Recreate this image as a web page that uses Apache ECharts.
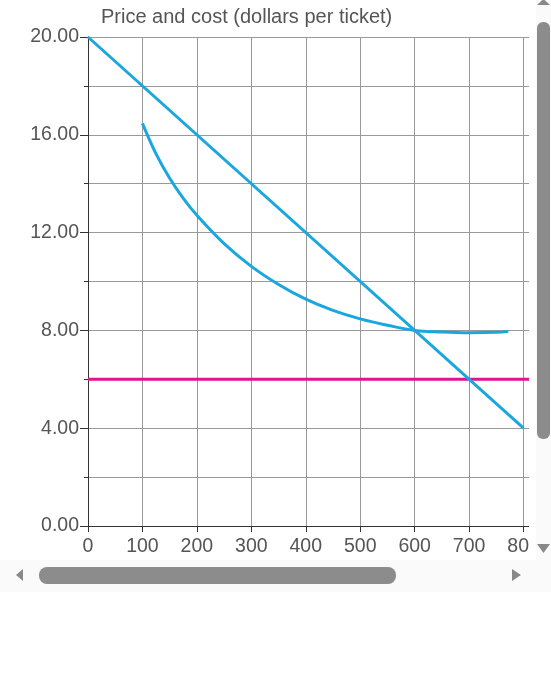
<!DOCTYPE html>
<html>
<head>
<meta charset="utf-8">
<script src="https://cdn.jsdelivr.net/npm/echarts@6/dist/echarts.min.js"></script>
<style>
html,body{margin:0;padding:0;background:#fff;}
#chart{width:551px;height:700px;}
</style>
</head>
<body>
<div id="chart"></div>
<script>
// Data
const titleText = 'Price and cost (dollars per ticket)';
const demandQ = [0, 800];
const demandP = [20, 4];
const acQ = [100, 125, 150, 175, 200, 250, 300, 350, 400, 450, 500, 550, 600, 650, 700, 750, 772];
const acP = [16.47, 15.22, 14.22, 13.4, 12.71, 11.55, 10.62, 9.88, 9.28, 8.82, 8.47, 8.21, 8.0, 7.93, 7.9, 7.92, 7.96];
const mcQ = [0, 810];
const mcP = [6, 6];
const yTicks = [0, 4, 8, 12, 16, 20];
const xTicks = [0, 100, 200, 300, 400, 500, 600, 700, 800];

const zip = (a, b) => a.map((v, i) => [v, b[i]]);

const chart = echarts.init(document.getElementById('chart'), null, {renderer: 'canvas'});
const FONT = 'Liberation Sans, Arial, sans-serif';
const blue = '#1aa6df';
const pink = '#e0148c';
const grey = '#999999';
const thumb = '#8c8c8c';

chart.setOption({
  animation: false,
  backgroundColor: '#ffffff',
  title: {
    text: titleText,
    left: 96, top: 2,
    textStyle: {fontFamily: FONT, fontSize: 20, fontWeight: 'normal', color: '#555'}
  },
  grid: {left: 88, top: 37, width: 441, height: 489, containLabel: false},
  xAxis: {
    type: 'value', min: 0, max: 810, interval: 100,
    axisLine: {show: true, onZero: false, lineStyle: {color: '#333', width: 1}},
    axisTick: {show: true, length: 6, lineStyle: {color: '#333'}},
    axisLabel: {
      margin: 11, color: '#555', fontFamily: FONT, fontSize: 19.5,
      formatter: v => xTicks.indexOf(v) >= 0 ? String(v) : ''
    },
    splitLine: {show: true, lineStyle: {color: grey, width: 1}}
  },
  yAxis: {
    type: 'value', min: 0, max: 20, interval: 4,
    axisLine: {show: true, onZero: false, lineStyle: {color: '#333', width: 1}},
    axisTick: {show: true, length: 8, lineStyle: {color: '#333'}},
    minorTick: {show: true, splitNumber: 2, length: 4, lineStyle: {color: '#333'}},
    axisLabel: {
      margin: 9, color: '#555', fontFamily: FONT, fontSize: 19.5,
      formatter: v => yTicks.indexOf(v) >= 0 ? v.toFixed(2) : ''
    },
    splitLine: {show: true, lineStyle: {color: grey, width: 1}},
    minorSplitLine: {show: true, lineStyle: {color: grey, width: 1}}
  },
  series: [
    {type: 'line', data: zip(mcQ, mcP), symbol: 'none', lineStyle: {color: pink, width: 3}, z: 3},
    {type: 'line', data: zip(demandQ, demandP), symbol: 'none', lineStyle: {color: blue, width: 3}, z: 4},
    {type: 'line', data: zip(acQ, acP), symbol: 'none', smooth: 0.4, lineStyle: {color: blue, width: 3}, z: 4}
  ],
  graphic: [
    // clipping mask at right edge
    {type: 'rect', shape: {x: 529, y: 0, width: 22, height: 560}, style: {fill: '#fff'}, z: 100},
    // horizontal scrollbar track
    {type: 'rect', shape: {x: 0, y: 560, width: 551, height: 32}, style: {fill: '#fafafa'}, z: 100},
    {type: 'rect', shape: {x: 39, y: 567, width: 357, height: 17, r: 8}, style: {fill: thumb}, z: 101},
    {type: 'polygon', shape: {points: [[16, 575], [23, 569], [23, 581]]}, style: {fill: '#888'}, z: 101},
    {type: 'polygon', shape: {points: [[521, 575], [512, 569], [512, 581]]}, style: {fill: '#888'}, z: 101},
    // vertical scrollbar
    {type: 'rect', shape: {x: 536, y: 0, width: 15, height: 560}, style: {fill: '#fafafa'}, z: 100},
    {type: 'rect', shape: {x: 537, y: 22, width: 13, height: 417, r: 6}, style: {fill: thumb}, z: 101},
    {type: 'polygon', shape: {points: [[543.5, -1], [537, 5], [550, 5]]}, style: {fill: '#888'}, z: 101},
    {type: 'polygon', shape: {points: [[543.5, 553], [537, 544], [550, 544]]}, style: {fill: '#888'}, z: 101}
  ]
});
</script>
</body>
</html>
